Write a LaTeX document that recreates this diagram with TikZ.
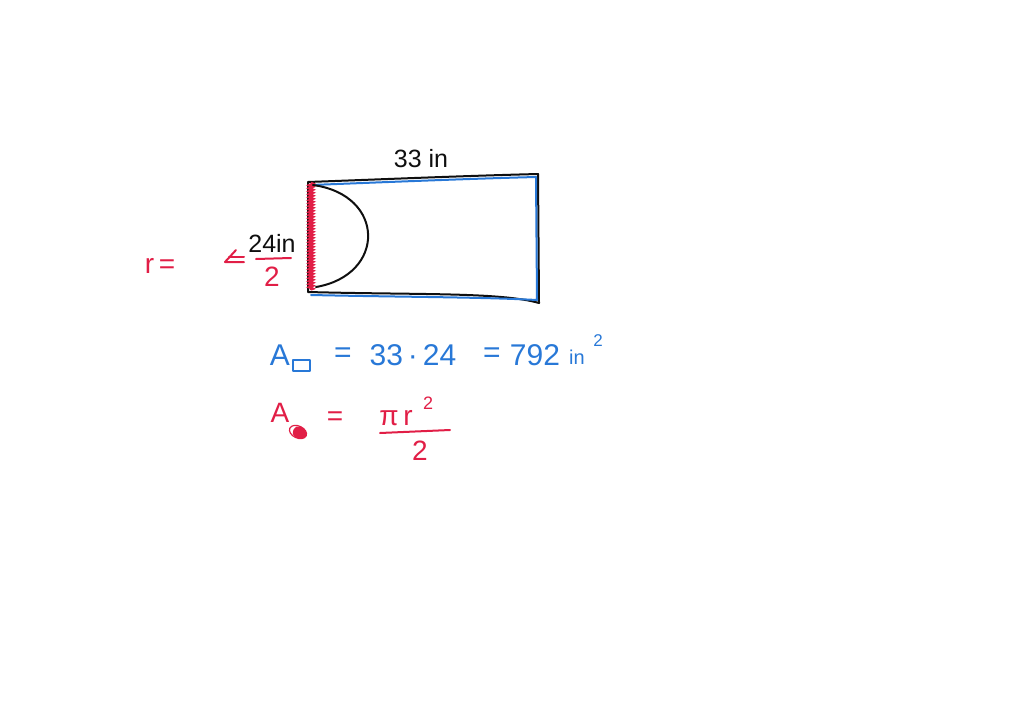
\documentclass[tikz,border=0pt]{standalone}
\usepackage{fontspec}
\setmainfont{Liberation Sans}
\usetikzlibrary{decorations.pathmorphing}
\definecolor{inkblue}{RGB}{40,120,215}
\definecolor{inkred}{RGB}{225,30,70}
\definecolor{inkblack}{RGB}{15,15,15}
\begin{document}
\begin{tikzpicture}[x=1pt,y=-1pt,
  bk/.style={draw=inkblack,line width=2pt,line cap=round,line join=round},
  bl/.style={draw=inkblue,line width=2pt,line cap=round,line join=round},
  rd/.style={draw=inkred,line width=2pt,line cap=round,line join=round},
  btxt/.style={text=inkblue,font=\fontsize{30}{32}\selectfont,inner sep=0pt},
  rtxt/.style={text=inkred,font=\fontsize{28}{30}\selectfont,inner sep=0pt},
  ktxt/.style={text=inkblack,font=\fontsize{25}{27}\selectfont,inner sep=0pt}]
\useasboundingbox (0,0) rectangle (1024,712);
% black rectangle
\coordinate (k1) at (308,182);
\coordinate (k2) at (538,174);
\coordinate (k3) at (539,303);
\coordinate (k4) at (308,292);
\draw[bk] (k1) .. controls (390,179) and (460,176) .. (k2) -- (k3)
  .. controls (500,292) and (420,295) .. (k4) -- cycle;
% blue rectangle
\coordinate (b1) at (311,185);
\coordinate (b2) at (536,177);
\coordinate (b3) at (537,300);
\coordinate (b4) at (311,295);
\draw[bl] (b1) .. controls (390,182) and (460,179) .. (b2) -- (b3)
  .. controls (480,297) and (400,297) .. (b4);
% red jagged left edge
\coordinate (r1) at (311,183);
\coordinate (r2) at (311,290);
\draw[inkred,line width=2.5pt,decorate,decoration={zigzag,segment length=3pt,amplitude=1.8pt}] (r1) -- (r2);
% semicircle
\coordinate (s1) at (313,185);
\coordinate (s2) at (316,287);
\draw[bk] (s1) .. controls (386,195) and (386,275) .. (s2);
% top label
\node[ktxt] (top) at (421,159) {33 in};
% fraction 24in/2
\node[ktxt] (num) at (272,243) {24in};
\coordinate (f1) at (256,259);
\coordinate (f2) at (291,258);
\draw[rd] (f1) -- (f2);
\node[rtxt] (den) at (272,277) {2};
% arrow
\coordinate (a1) at (236,250);
\coordinate (a2) at (225,262);
\coordinate (a3) at (244,262);
\coordinate (a4) at (229,257);
\coordinate (a5) at (244,257);
\draw[rd] (a1) -- (a2) -- (a3);
\draw[rd] (a4) -- (a5);
% r =
\node[rtxt] (req) at (160,266) {r\,=};
% blue equation
\node[btxt] (A1) at (280,355) {A};
\draw[bl,line width=1.6pt] (293,360) rectangle (310,371);
\node[btxt] (eq1) at (343,355) {=};
\node[btxt] (n1) at (413,355) {33\,·\,24};
\node[btxt] (eq2) at (492,355) {=};
\node[btxt] (n2) at (535,355) {792};
\node[text=inkblue,font=\fontsize{20}{22}\selectfont,inner sep=0pt] (in2) at (577,357) {in};
\node[text=inkblue,font=\fontsize{17}{19}\selectfont,inner sep=0pt] (sq) at (598,341) {2};
% red equation
\node[rtxt] (A2) at (280,413) {A};
\draw[inkred,line width=1.2pt,rotate around={-25:(298,432)}] (298,432) ellipse (9pt and 6pt);
\fill[inkred,rotate around={-25:(298,432)}] (298,426) arc (90:-90:9pt and 6pt) -- cycle;
\fill[inkred,rotate around={-25:(298,432)}] (298,432) ellipse (5pt and 6pt);
\node[rtxt] (eq3) at (335,419) {=};
\node[rtxt] (pr) at (396,418) {π\,r};
\node[text=inkred,font=\fontsize{18}{20}\selectfont,inner sep=0pt] (sq2) at (428,403) {2};
\coordinate (g1) at (380,433);
\coordinate (g2) at (450,430);
\draw[rd] (g1) -- (g2);
\node[rtxt] (den2) at (420,451) {2};
\end{tikzpicture}
\end{document}
